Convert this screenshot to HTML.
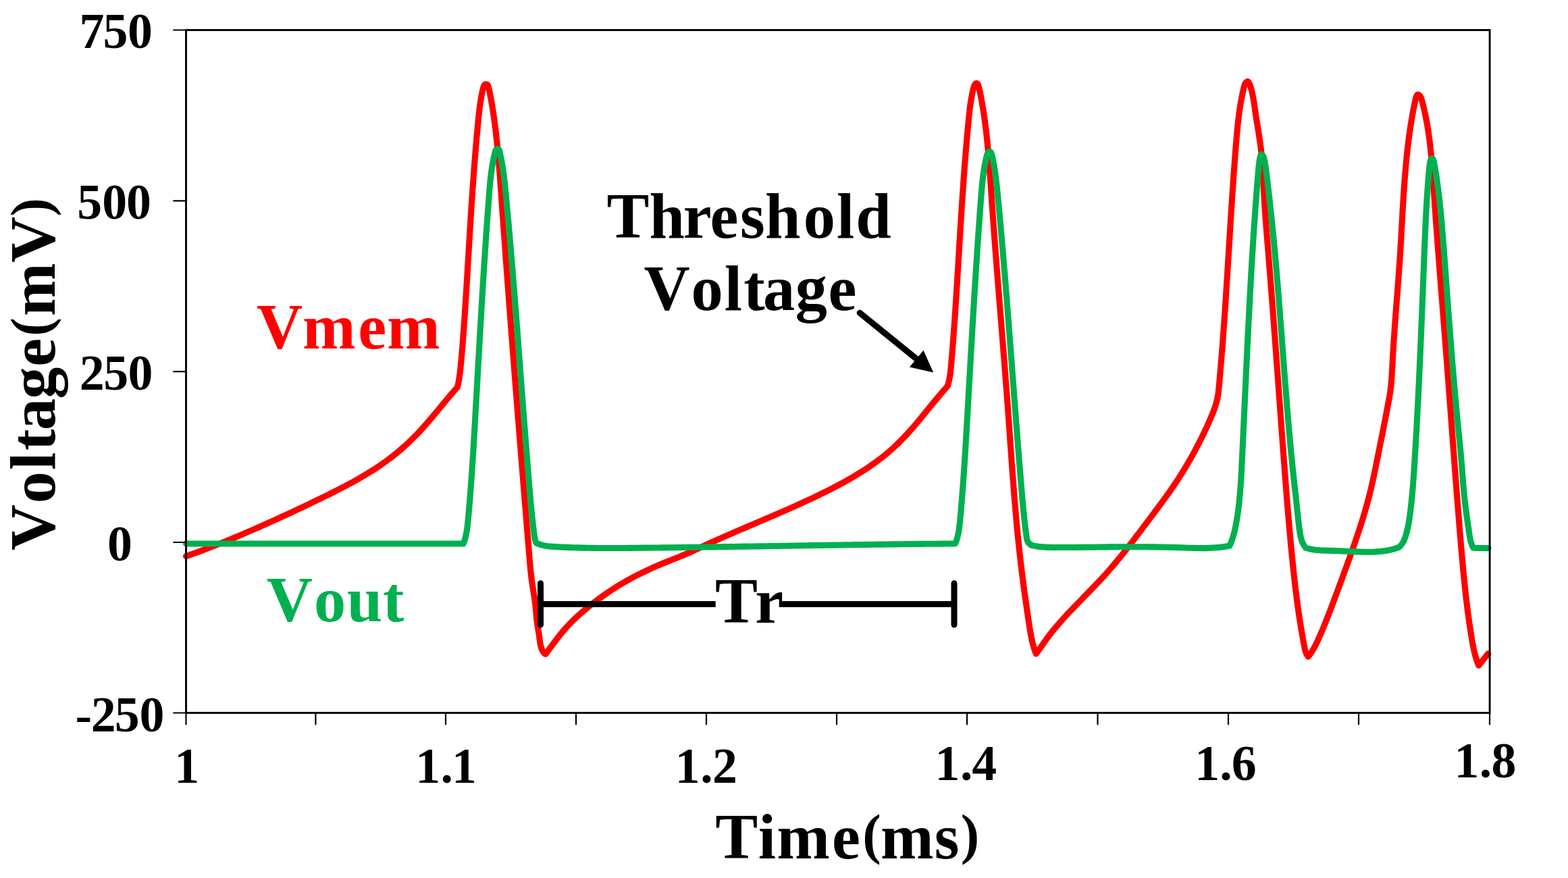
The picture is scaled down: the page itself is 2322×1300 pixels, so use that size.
<!DOCTYPE html>
<html lang="en"><head><meta charset="utf-8"><title>Vmem / Vout spike waveform</title>
<style>html,body{margin:0;padding:0;background:#fff}svg{display:block}text{font-family:"Liberation Serif",serif;font-weight:bold;white-space:pre}</style>
</head><body>
<svg xmlns="http://www.w3.org/2000/svg" width="2322" height="1300" viewBox="0 0 2322 1300">
<rect width="2322" height="1300" fill="#fff"/>
<g fill="none" stroke-width="9.1" stroke-linecap="round" stroke-linejoin="round">
<path stroke="#f00" d="M275.500 823.600C278.656 822.505 281.808 821.396 284.954 820.271C288.100 819.146 291.240 818.007 294.376 816.853C297.512 815.700 300.642 814.533 303.767 813.352C306.893 812.171 310.013 810.978 313.129 809.772C316.245 808.566 319.355 807.347 322.462 806.117C325.568 804.887 328.670 803.645 331.767 802.393C334.864 801.141 337.957 799.877 341.046 798.604C344.135 797.331 347.220 796.047 350.300 794.755C353.381 793.462 356.458 792.160 359.531 790.850C362.604 789.539 365.674 788.220 368.740 786.894C371.807 785.567 374.869 784.233 377.929 782.891C380.989 781.550 384.046 780.201 387.100 778.846C390.154 777.491 393.205 776.130 396.253 774.764C399.302 773.397 402.348 772.025 405.392 770.647C408.435 769.269 411.476 767.885 414.515 766.496C417.553 765.106 420.589 763.711 423.622 762.310C426.655 760.910 429.686 759.503 432.714 758.091C435.741 756.680 438.767 755.262 441.789 753.839C444.812 752.416 447.832 750.987 450.849 749.552C453.867 748.118 456.882 746.678 459.894 745.232C462.906 743.787 465.915 742.336 468.922 740.879C471.928 739.422 474.932 737.960 477.933 736.492C480.935 735.024 483.933 733.551 486.927 732.068C489.921 730.586 492.911 729.094 495.894 727.590C498.878 726.087 501.855 724.570 504.824 723.038C507.793 721.506 510.753 719.958 513.704 718.392C516.655 716.825 519.596 715.239 522.524 713.631C525.453 712.023 528.369 710.392 531.271 708.737C534.173 707.081 537.060 705.400 539.931 703.691C542.801 701.981 545.655 700.243 548.489 698.475C551.323 696.706 554.138 694.906 556.931 693.072C559.724 691.239 562.495 689.372 565.241 687.469C567.987 685.565 570.707 683.626 573.400 681.648C576.092 679.670 578.757 677.653 581.389 675.596C584.022 673.539 586.622 671.441 589.190 669.304C591.758 667.167 594.294 664.991 596.797 662.778C599.301 660.566 601.772 658.316 604.210 656.033C606.648 653.749 609.054 651.430 611.428 649.079C613.802 646.728 616.143 644.344 618.452 641.930C620.761 639.515 623.038 637.069 625.284 634.596C627.530 632.123 629.746 629.622 631.939 627.102C634.132 624.582 636.303 622.042 638.458 619.489C640.613 616.936 642.753 614.370 644.884 611.797C647.016 609.224 649.139 606.645 651.262 604.065C653.385 601.486 655.508 598.906 657.637 596.331C659.767 593.757 661.904 591.189 664.055 588.633C666.207 586.077 668.373 583.533 670.561 581.009C672.750 578.484 674.962 575.980 677.200 573.500C678.065 570.290 678.796 567.043 679.406 563.775C680.015 560.506 680.512 557.217 680.937 553.919C681.362 550.622 681.716 547.315 682.039 544.006C682.363 540.697 682.662 537.385 682.960 534.073C683.257 530.762 683.548 527.449 683.832 524.137C684.116 520.824 684.394 517.510 684.665 514.197C684.937 510.883 685.202 507.568 685.463 504.253C685.723 500.939 685.977 497.623 686.227 494.308C686.476 490.992 686.721 487.676 686.961 484.360C687.201 481.043 687.436 477.727 687.668 474.410C687.899 471.093 688.126 467.776 688.350 464.458C688.574 461.141 688.794 457.823 689.012 454.505C689.229 451.187 689.443 447.869 689.655 444.551C689.866 441.233 690.076 437.914 690.283 434.596C690.490 431.277 690.695 427.959 690.898 424.640C691.102 421.321 691.304 418.002 691.504 414.683C691.705 411.364 691.905 408.045 692.104 404.726C692.303 401.407 692.502 398.088 692.701 394.769C692.899 391.450 693.097 388.131 693.296 384.812C693.494 381.493 693.693 378.174 693.892 374.855C694.090 371.536 694.290 368.217 694.490 364.898C694.689 361.579 694.890 358.260 695.092 354.941C695.293 351.622 695.495 348.303 695.699 344.984C695.903 341.666 696.107 338.347 696.314 335.028C696.520 331.710 696.728 328.391 696.937 325.073C697.147 321.755 697.358 318.436 697.571 315.118C697.785 311.800 698.000 308.482 698.218 305.164C698.435 301.846 698.655 298.529 698.878 295.211C699.101 291.893 699.326 288.576 699.554 285.259C699.782 281.942 700.013 278.625 700.247 275.308C700.481 271.991 700.718 268.675 700.959 265.358C701.199 262.042 701.443 258.726 701.691 255.410C701.939 252.095 702.191 248.779 702.446 245.464C702.701 242.149 702.961 238.834 703.225 235.519C703.488 232.205 703.756 228.891 704.029 225.577C704.301 222.263 704.579 218.950 704.860 215.637C705.142 212.324 705.429 209.011 705.721 205.699C706.013 202.387 706.310 199.075 706.612 195.764C706.914 192.453 707.222 189.142 707.535 185.832C707.849 182.521 708.167 179.212 708.493 175.903C708.819 172.594 709.156 169.286 709.522 165.981C709.888 162.676 710.284 159.375 710.730 156.080C711.175 152.784 711.669 149.496 712.230 146.219C712.791 142.941 713.420 139.675 714.134 136.428C714.848 133.180 715.383 129.844 716.776 126.825C718.169 123.806 721.713 124.183 722.818 127.319C723.923 130.455 724.619 133.718 725.262 136.980C725.905 140.243 726.519 143.511 727.109 146.783C727.700 150.055 728.266 153.331 728.809 156.612C729.352 159.892 729.872 163.176 730.370 166.464C730.869 169.751 731.346 173.042 731.804 176.335C732.262 179.628 732.700 182.924 733.120 186.223C733.541 189.521 733.943 192.822 734.329 196.124C734.716 199.427 735.086 202.731 735.441 206.037C735.797 209.343 736.138 212.650 736.466 215.959C736.795 219.268 737.110 222.578 737.415 225.889C737.720 229.200 738.013 232.512 738.298 235.825C738.582 239.138 738.857 242.451 739.125 245.765C739.393 249.080 739.653 252.394 739.907 255.710C740.161 259.025 740.410 262.341 740.654 265.657C740.898 268.973 741.138 272.289 741.376 275.605C741.614 278.922 741.849 282.239 742.084 285.555C742.319 288.872 742.553 292.189 742.788 295.505C743.022 298.822 743.258 302.139 743.494 305.455C743.730 308.772 743.967 312.089 744.204 315.405C744.441 318.722 744.679 322.038 744.917 325.355C745.156 328.671 745.394 331.987 745.634 335.304C745.873 338.620 746.113 341.936 746.354 345.253C746.594 348.569 746.835 351.885 747.077 355.201C747.319 358.518 747.561 361.834 747.803 365.150C748.046 368.466 748.289 371.782 748.533 375.098C748.777 378.414 749.021 381.730 749.266 385.046C749.510 388.362 749.756 391.678 750.001 394.994C750.247 398.310 750.493 401.626 750.740 404.942C750.987 408.258 751.234 411.573 751.482 414.889C751.729 418.205 751.978 421.521 752.226 424.836C752.475 428.152 752.724 431.468 752.974 434.783C753.223 438.099 753.473 441.414 753.724 444.730C753.974 448.046 754.225 451.361 754.477 454.676C754.728 457.992 754.980 461.307 755.233 464.623C755.485 467.938 755.738 471.254 755.991 474.569C756.244 477.884 756.498 481.200 756.752 484.515C757.006 487.830 757.260 491.145 757.515 494.461C757.770 497.776 758.025 501.091 758.281 504.406C758.537 507.721 758.793 511.036 759.049 514.352C759.306 517.667 759.563 520.982 759.820 524.297C760.077 527.612 760.335 530.927 760.593 534.242C760.851 537.557 761.110 540.872 761.368 544.187C761.627 547.501 761.886 550.816 762.146 554.131C762.406 557.446 762.665 560.761 762.926 564.076C763.186 567.390 763.447 570.705 763.708 574.020C763.969 577.335 764.230 580.649 764.491 583.964C764.753 587.279 765.015 590.593 765.277 593.908C765.540 597.223 765.802 600.537 766.065 603.852C766.328 607.166 766.592 610.481 766.855 613.796C767.119 617.110 767.383 620.425 767.647 623.739C767.911 627.054 768.176 630.368 768.440 633.682C768.705 636.997 768.970 640.311 769.236 643.626C769.501 646.940 769.767 650.254 770.033 653.569C770.298 656.883 770.565 660.197 770.831 663.512C771.098 666.826 771.364 670.140 771.631 673.455C771.898 676.769 772.166 680.083 772.433 683.397C772.701 686.712 772.968 690.026 773.236 693.340C773.504 696.654 773.773 699.968 774.041 703.282C774.310 706.597 774.578 709.911 774.847 713.225C775.116 716.539 775.385 719.853 775.655 723.167C775.924 726.481 776.193 729.795 776.463 733.109C776.733 736.423 777.003 739.737 777.273 743.051C777.543 746.365 777.814 749.679 778.084 752.993C778.355 756.307 778.626 759.621 778.897 762.935C779.168 766.249 779.439 769.563 779.710 772.877C779.981 776.191 780.253 779.505 780.524 782.819C780.796 786.132 781.068 789.446 781.340 792.760C781.612 796.074 781.884 799.388 782.156 802.702C782.428 806.016 782.701 809.329 782.973 812.643C783.246 815.957 783.518 819.271 783.791 822.585C784.064 825.898 784.338 829.212 784.624 832.525C784.911 835.837 785.210 839.149 785.534 842.458C785.858 845.767 786.207 849.074 786.593 852.377C786.979 855.679 787.403 858.977 787.871 862.269C788.340 865.561 788.848 868.847 789.364 872.132C789.881 875.416 790.405 878.700 790.908 881.986C791.411 885.273 791.892 888.563 792.319 891.861C792.747 895.158 793.119 898.463 793.414 901.775C793.710 905.087 793.947 908.403 794.231 911.716C794.516 915.029 794.862 918.337 795.323 921.630C795.784 924.923 796.332 928.203 796.880 931.482C797.429 934.762 797.978 938.041 798.444 941.334C798.909 944.626 799.255 947.935 799.765 951.221C800.276 954.506 800.963 957.777 802.091 960.905C803.219 964.032 804.792 967.527 808.000 968.400C809.975 965.728 811.941 963.048 813.910 960.371C815.879 957.695 817.852 955.021 819.843 952.360C821.834 949.700 823.843 947.053 825.884 944.430C827.926 941.808 829.999 939.211 832.118 936.651C834.236 934.091 836.400 931.568 838.622 929.097C840.844 926.626 843.127 924.210 845.461 921.844C847.794 919.478 850.179 917.163 852.604 914.892C855.030 912.620 857.496 910.392 859.993 908.200C862.491 906.008 865.019 903.851 867.573 901.724C870.126 899.598 872.706 897.503 875.312 895.441C877.917 893.378 880.548 891.348 883.204 889.350C885.859 887.352 888.539 885.386 891.242 883.454C893.946 881.522 896.673 879.622 899.422 877.756C902.172 875.890 904.944 874.057 907.738 872.259C910.532 870.460 913.349 868.695 916.186 866.965C919.023 865.235 921.881 863.540 924.760 861.879C927.638 860.218 930.536 858.592 933.453 857.000C936.369 855.407 939.304 853.848 942.256 852.322C945.208 850.796 948.177 849.303 951.162 847.842C954.146 846.380 957.146 844.951 960.160 843.552C963.174 842.153 966.203 840.784 969.244 839.446C972.286 838.107 975.340 836.798 978.406 835.517C981.473 834.236 984.552 832.986 987.637 831.752C990.723 830.518 993.815 829.300 996.905 828.077C999.994 826.855 1003.083 825.628 1006.162 824.378C1009.241 823.127 1012.309 821.852 1015.362 820.539C1018.414 819.226 1021.453 817.880 1024.482 816.514C1027.512 815.148 1030.532 813.762 1033.548 812.368C1036.565 810.974 1039.578 809.571 1042.592 808.173C1045.607 806.775 1048.624 805.382 1051.647 804.002C1054.669 802.621 1057.697 801.251 1060.729 799.891C1063.760 798.530 1066.796 797.178 1069.835 795.834C1072.874 794.490 1075.917 793.154 1078.962 791.824C1082.007 790.494 1085.056 789.171 1088.106 787.852C1091.156 786.533 1094.208 785.220 1097.262 783.910C1100.316 782.599 1103.371 781.293 1106.428 779.988C1109.484 778.683 1112.541 777.381 1115.598 776.079C1118.656 774.777 1121.714 773.476 1124.771 772.174C1127.828 770.872 1130.885 769.569 1133.941 768.264C1136.997 766.959 1140.053 765.652 1143.106 764.341C1146.160 763.030 1149.212 761.716 1152.262 760.396C1155.312 759.077 1158.359 757.752 1161.404 756.421C1164.449 755.090 1167.491 753.753 1170.530 752.408C1173.568 751.063 1176.603 749.709 1179.634 748.347C1182.665 746.985 1185.692 745.613 1188.714 744.231C1191.736 742.849 1194.753 741.456 1197.765 740.052C1200.776 738.647 1203.782 737.230 1206.782 735.800C1209.782 734.371 1212.775 732.927 1215.761 731.470C1218.748 730.012 1221.727 728.540 1224.698 727.051C1227.669 725.563 1230.632 724.058 1233.585 722.534C1236.537 721.009 1239.480 719.466 1242.411 717.900C1245.342 716.334 1248.262 714.746 1251.167 713.134C1254.073 711.521 1256.964 709.884 1259.840 708.219C1262.716 706.554 1265.576 704.862 1268.418 703.139C1271.260 701.417 1274.084 699.664 1276.887 697.879C1279.689 696.094 1282.472 694.276 1285.230 692.424C1287.989 690.571 1290.724 688.683 1293.432 686.758C1296.141 684.833 1298.823 682.870 1301.475 680.868C1304.128 678.866 1306.750 676.825 1309.340 674.742C1311.929 672.660 1314.486 670.536 1317.005 668.370C1319.525 666.203 1322.008 663.994 1324.451 661.741C1326.894 659.488 1329.295 657.190 1331.655 654.851C1334.016 652.512 1336.337 650.133 1338.624 647.722C1340.910 645.311 1343.163 642.868 1345.387 640.399C1347.612 637.930 1349.808 635.436 1351.982 632.923C1354.156 630.410 1356.308 627.877 1358.444 625.332C1360.580 622.786 1362.700 620.227 1364.811 617.661C1366.921 615.094 1369.023 612.520 1371.121 609.943C1373.219 607.366 1375.315 604.787 1377.413 602.210C1379.512 599.634 1381.615 597.061 1383.728 594.496C1385.840 591.931 1387.963 589.374 1390.103 586.832C1392.243 584.290 1394.400 581.761 1396.580 579.254C1398.761 576.746 1400.967 574.261 1403.200 571.800C1404.216 568.617 1405.048 565.376 1405.715 562.101C1406.383 558.827 1406.897 555.523 1407.320 552.209C1407.742 548.894 1408.073 545.568 1408.377 542.240C1408.681 538.913 1408.966 535.583 1409.250 532.254C1409.535 528.925 1409.813 525.595 1410.087 522.265C1410.361 518.934 1410.629 515.604 1410.893 512.272C1411.156 508.941 1411.415 505.610 1411.669 502.278C1411.923 498.946 1412.173 495.614 1412.419 492.282C1412.665 488.949 1412.906 485.616 1413.144 482.283C1413.382 478.950 1413.616 475.617 1413.847 472.284C1414.078 468.950 1414.306 465.616 1414.530 462.282C1414.755 458.948 1414.976 455.614 1415.195 452.280C1415.415 448.946 1415.631 445.611 1415.845 442.276C1416.060 438.942 1416.272 435.607 1416.482 432.272C1416.692 428.937 1416.901 425.602 1417.108 422.267C1417.315 418.932 1417.521 415.597 1417.725 412.262C1417.930 408.926 1418.133 405.591 1418.336 402.256C1418.539 398.920 1418.741 395.585 1418.943 392.250C1419.145 388.914 1419.346 385.579 1419.548 382.243C1419.749 378.908 1419.951 375.573 1420.152 372.237C1420.354 368.902 1420.556 365.566 1420.758 362.231C1420.961 358.896 1421.164 355.560 1421.368 352.225C1421.571 348.890 1421.776 345.554 1421.982 342.219C1422.188 338.884 1422.395 335.549 1422.603 332.214C1422.811 328.879 1423.021 325.544 1423.233 322.209C1423.444 318.874 1423.658 315.540 1423.873 312.205C1424.088 308.871 1424.306 305.536 1424.526 302.202C1424.745 298.868 1424.967 295.534 1425.192 292.200C1425.417 288.866 1425.644 285.532 1425.874 282.198C1426.105 278.865 1426.338 275.531 1426.574 272.198C1426.811 268.865 1427.051 265.532 1427.294 262.200C1427.537 258.867 1427.784 255.535 1428.034 252.202C1428.285 248.870 1428.539 245.539 1428.798 242.207C1429.056 238.876 1429.319 235.544 1429.586 232.214C1429.853 228.883 1430.125 225.552 1430.401 222.222C1430.678 218.892 1430.959 215.563 1431.245 212.233C1431.531 208.904 1431.822 205.575 1432.118 202.247C1432.415 198.919 1432.716 195.591 1433.024 192.263C1433.331 188.936 1433.644 185.609 1433.963 182.283C1434.282 178.957 1434.604 175.631 1434.942 172.306C1435.280 168.982 1435.636 165.659 1436.029 162.341C1436.422 159.023 1436.853 155.709 1437.340 152.403C1437.827 149.097 1438.371 145.800 1438.991 142.516C1439.610 139.232 1440.305 135.963 1441.092 132.715C1441.878 129.468 1442.416 125.706 1445.076 123.684C1447.736 121.662 1449.181 127.816 1450.032 131.048C1450.884 134.279 1451.505 137.566 1452.147 140.845C1452.789 144.124 1453.402 147.409 1453.988 150.699C1454.574 153.988 1455.132 157.283 1455.666 160.582C1456.200 163.880 1456.708 167.183 1457.193 170.489C1457.679 173.795 1458.141 177.105 1458.582 180.417C1459.023 183.729 1459.443 187.044 1459.843 190.362C1460.244 193.679 1460.626 196.999 1460.991 200.320C1461.356 203.642 1461.704 206.965 1462.037 210.290C1462.370 213.615 1462.688 216.941 1462.993 220.269C1463.298 223.596 1463.591 226.925 1463.873 230.255C1464.154 233.584 1464.425 236.915 1464.688 240.246C1464.950 243.577 1465.204 246.909 1465.451 250.241C1465.698 253.574 1465.938 256.907 1466.174 260.240C1466.410 263.573 1466.642 266.906 1466.871 270.240C1467.100 273.574 1467.326 276.908 1467.552 280.241C1467.778 283.575 1468.004 286.909 1468.231 290.243C1468.459 293.577 1468.688 296.910 1468.920 300.244C1469.152 303.577 1469.385 306.911 1469.621 310.244C1469.857 313.577 1470.095 316.910 1470.335 320.243C1470.574 323.576 1470.816 326.908 1471.059 330.241C1471.303 333.574 1471.548 336.906 1471.795 340.239C1472.042 343.571 1472.290 346.903 1472.540 350.235C1472.790 353.568 1473.042 356.900 1473.295 360.231C1473.548 363.563 1473.802 366.895 1474.058 370.227C1474.313 373.559 1474.570 376.890 1474.828 380.222C1475.086 383.553 1475.346 386.885 1475.606 390.216C1475.866 393.547 1476.127 396.879 1476.389 400.210C1476.652 403.541 1476.915 406.872 1477.178 410.203C1477.442 413.534 1477.707 416.865 1477.972 420.196C1478.237 423.527 1478.503 426.858 1478.769 430.189C1479.036 433.520 1479.303 436.851 1479.570 440.182C1479.837 443.512 1480.105 446.843 1480.373 450.174C1480.641 453.505 1480.909 456.835 1481.177 460.166C1481.446 463.497 1481.714 466.828 1481.983 470.158C1482.251 473.489 1482.520 476.820 1482.788 480.150C1483.056 483.481 1483.325 486.812 1483.593 490.143C1483.861 493.473 1484.129 496.804 1484.396 500.135C1484.663 503.466 1484.930 506.797 1485.197 510.127C1485.464 513.458 1485.730 516.789 1485.995 520.120C1486.260 523.451 1486.525 526.782 1486.789 530.113C1487.053 533.444 1487.317 536.775 1487.579 540.106C1487.842 543.438 1488.103 546.769 1488.364 550.100C1488.624 553.432 1488.884 556.763 1489.142 560.094C1489.401 563.426 1489.658 566.758 1489.914 570.089C1490.170 573.421 1490.425 576.753 1490.678 580.085C1490.932 583.416 1491.184 586.748 1491.434 590.081C1491.685 593.413 1491.934 596.745 1492.181 600.077C1492.429 603.410 1492.675 606.742 1492.919 610.075C1493.163 613.407 1493.405 616.740 1493.646 620.073C1493.886 623.406 1494.126 626.738 1494.364 630.071C1494.602 633.404 1494.840 636.738 1495.076 640.071C1495.313 643.404 1495.550 646.737 1495.786 650.070C1496.022 653.403 1496.258 656.736 1496.495 660.069C1496.732 663.403 1496.969 666.736 1497.207 670.069C1497.445 673.402 1497.684 676.735 1497.924 680.068C1498.164 683.400 1498.405 686.733 1498.649 690.066C1498.892 693.398 1499.137 696.731 1499.385 700.063C1499.632 703.396 1499.882 706.728 1500.134 710.060C1500.386 713.392 1500.642 716.723 1500.900 720.055C1501.158 723.386 1501.420 726.718 1501.685 730.049C1501.950 733.380 1502.219 736.710 1502.492 740.041C1502.764 743.371 1503.041 746.701 1503.323 750.031C1503.605 753.360 1503.891 756.690 1504.182 760.018C1504.473 763.347 1504.770 766.675 1505.071 770.003C1505.373 773.331 1505.680 776.659 1505.994 779.985C1506.307 783.312 1506.626 786.638 1506.952 789.964C1507.278 793.290 1507.610 796.615 1507.949 799.939C1508.288 803.263 1508.634 806.587 1508.987 809.909C1509.340 813.232 1509.701 816.554 1510.069 819.875C1510.438 823.196 1510.814 826.517 1511.198 829.836C1511.582 833.155 1511.974 836.474 1512.373 839.791C1512.773 843.109 1513.179 846.426 1513.593 849.741C1514.007 853.057 1514.428 856.372 1514.856 859.686C1515.284 863.000 1515.719 866.313 1516.161 869.625C1516.603 872.938 1517.051 876.249 1517.505 879.559C1517.960 882.870 1518.421 886.179 1518.888 889.488C1519.355 892.797 1519.828 896.105 1520.307 899.412C1520.786 902.719 1521.271 906.025 1521.762 909.330C1522.252 912.635 1522.748 915.940 1523.249 919.244C1523.751 922.547 1524.255 925.851 1524.770 929.152C1525.285 932.454 1525.817 935.753 1526.406 939.042C1526.995 942.331 1527.641 945.611 1528.383 948.869C1529.126 952.126 1529.966 955.363 1530.940 958.559C1531.915 961.755 1533.033 964.908 1534.300 968.000C1536.276 965.321 1538.214 962.615 1540.135 959.896C1542.056 957.178 1543.963 954.449 1545.882 951.730C1547.802 949.011 1549.736 946.301 1551.710 943.621C1553.685 940.942 1555.706 938.296 1557.774 935.688C1559.842 933.079 1561.954 930.506 1564.102 927.963C1566.250 925.420 1568.434 922.908 1570.645 920.419C1572.856 917.931 1575.095 915.467 1577.353 913.022C1579.611 910.577 1581.890 908.150 1584.180 905.734C1586.471 903.319 1588.773 900.915 1591.083 898.518C1593.392 896.121 1595.709 893.731 1598.029 891.344C1600.349 888.957 1602.673 886.574 1604.996 884.189C1607.319 881.805 1609.641 879.420 1611.959 877.031C1614.276 874.642 1616.589 872.248 1618.894 869.846C1621.198 867.444 1623.494 865.034 1625.777 862.611C1628.060 860.189 1630.330 857.755 1632.584 855.305C1634.837 852.855 1637.073 850.389 1639.288 847.904C1641.503 845.420 1643.696 842.915 1645.869 840.393C1648.041 837.871 1650.194 835.332 1652.328 832.777C1654.462 830.223 1656.578 827.654 1658.679 825.071C1660.779 822.489 1662.864 819.894 1664.936 817.289C1667.007 814.683 1669.066 812.067 1671.113 809.442C1673.160 806.818 1675.197 804.185 1677.225 801.545C1679.253 798.906 1681.273 796.260 1683.287 793.610C1685.302 790.960 1687.310 788.305 1689.315 785.648C1691.320 782.991 1693.322 780.332 1695.323 777.672C1697.324 775.012 1699.325 772.351 1701.327 769.692C1703.328 767.032 1705.331 764.373 1707.330 761.712C1709.329 759.050 1711.325 756.387 1713.315 753.718C1715.305 751.050 1717.289 748.377 1719.263 745.697C1721.237 743.017 1723.201 740.329 1725.153 737.633C1727.104 734.936 1729.042 732.229 1730.964 729.511C1732.885 726.793 1734.790 724.064 1736.675 721.320C1738.560 718.576 1740.424 715.819 1742.265 713.045C1744.106 710.272 1745.922 707.482 1747.712 704.676C1749.503 701.870 1751.267 699.047 1753.006 696.209C1754.745 693.370 1756.458 690.516 1758.147 687.648C1759.836 684.779 1761.499 681.896 1763.138 678.999C1764.777 676.102 1766.392 673.191 1767.982 670.266C1769.572 667.342 1771.138 664.405 1772.681 661.455C1774.223 658.505 1775.741 655.543 1777.236 652.569C1778.732 649.595 1780.203 646.609 1781.652 643.612C1783.100 640.615 1784.526 637.607 1785.928 634.588C1787.331 631.569 1788.711 628.540 1790.069 625.501C1791.426 622.462 1792.767 619.414 1794.057 616.346C1795.348 613.278 1796.588 610.188 1797.738 607.064C1798.888 603.941 1799.949 600.783 1800.879 597.587C1801.809 594.391 1802.609 591.156 1803.240 587.888C1803.871 584.620 1804.324 581.317 1804.600 578.000C1804.916 574.683 1805.227 571.365 1805.532 568.047C1805.838 564.729 1806.138 561.411 1806.434 558.092C1806.729 554.773 1807.020 551.453 1807.306 548.133C1807.593 544.814 1807.874 541.493 1808.151 538.173C1808.429 534.852 1808.702 531.531 1808.971 528.210C1809.240 524.889 1809.505 521.567 1809.766 518.245C1810.027 514.923 1810.284 511.601 1810.538 508.279C1810.792 504.956 1811.042 501.634 1811.289 498.311C1811.536 494.988 1811.779 491.665 1812.020 488.341C1812.260 485.018 1812.498 481.694 1812.733 478.370C1812.967 475.046 1813.199 471.722 1813.429 468.398C1813.658 465.074 1813.885 461.749 1814.110 458.425C1814.335 455.100 1814.557 451.776 1814.778 448.451C1814.998 445.126 1815.217 441.801 1815.433 438.476C1815.650 435.151 1815.865 431.826 1816.078 428.501C1816.292 425.175 1816.504 421.850 1816.715 418.524C1816.925 415.199 1817.135 411.873 1817.343 408.548C1817.552 405.222 1817.760 401.897 1817.966 398.571C1818.173 395.245 1818.379 391.919 1818.585 388.594C1818.791 385.268 1818.996 381.942 1819.201 378.616C1819.406 375.290 1819.611 371.965 1819.816 368.639C1820.021 365.313 1820.226 361.987 1820.431 358.661C1820.636 355.336 1820.842 352.010 1821.048 348.684C1821.254 345.358 1821.461 342.033 1821.668 338.707C1821.876 335.381 1822.084 332.056 1822.294 328.730C1822.503 325.405 1822.714 322.079 1822.926 318.754C1823.138 315.428 1823.351 312.103 1823.566 308.778C1823.781 305.453 1823.997 302.128 1824.215 298.803C1824.434 295.478 1824.654 292.153 1824.876 288.828C1825.098 285.504 1825.323 282.179 1825.549 278.855C1825.776 275.530 1826.005 272.206 1826.237 268.882C1826.469 265.558 1826.703 262.234 1826.941 258.910C1827.178 255.587 1827.418 252.263 1827.661 248.940C1827.905 245.617 1828.151 242.294 1828.401 238.971C1828.651 235.648 1828.904 232.326 1829.161 229.004C1829.418 225.681 1829.679 222.359 1829.943 219.038C1830.208 215.716 1830.475 212.395 1830.751 209.074C1831.027 205.753 1831.312 202.433 1831.610 199.115C1831.909 195.796 1832.222 192.479 1832.554 189.163C1832.887 185.848 1833.239 182.534 1833.617 179.223C1833.995 175.913 1834.398 172.605 1834.832 169.301C1835.267 165.998 1835.732 162.698 1836.234 159.404C1836.736 156.110 1837.274 152.821 1837.855 149.540C1838.435 146.259 1839.058 142.985 1839.727 139.721C1840.397 136.457 1841.101 133.199 1841.883 129.960C1842.664 126.721 1843.348 122.834 1846.223 121.150C1849.099 119.467 1850.775 125.109 1851.835 128.268C1852.894 131.427 1853.721 134.660 1854.443 137.913C1855.165 141.166 1855.789 144.440 1856.352 147.724C1856.915 151.009 1857.417 154.303 1857.895 157.601C1858.374 160.898 1858.828 164.199 1859.297 167.498C1859.765 170.797 1860.255 174.093 1860.769 177.386C1861.284 180.678 1861.817 183.967 1862.353 187.256C1862.890 190.544 1863.429 193.832 1863.957 197.123C1864.484 200.413 1864.999 203.705 1865.485 207.001C1865.972 210.298 1866.430 213.598 1866.844 216.905C1867.258 220.211 1867.627 223.523 1867.959 226.838C1868.292 230.154 1868.588 233.473 1868.855 236.794C1869.123 240.116 1869.362 243.439 1869.580 246.764C1869.798 250.089 1869.996 253.416 1870.182 256.743C1870.368 260.069 1870.541 263.397 1870.710 266.725C1870.879 270.053 1871.043 273.381 1871.212 276.709C1871.380 280.037 1871.552 283.364 1871.736 286.691C1871.920 290.018 1872.114 293.345 1872.318 296.671C1872.522 299.997 1872.735 303.322 1872.957 306.647C1873.178 309.971 1873.408 313.296 1873.644 316.619C1873.880 319.943 1874.124 323.266 1874.372 326.589C1874.621 329.912 1874.875 333.234 1875.133 336.557C1875.391 339.879 1875.654 343.200 1875.919 346.522C1876.184 349.844 1876.452 353.165 1876.722 356.486C1876.991 359.807 1877.262 363.128 1877.533 366.449C1877.804 369.770 1878.076 373.092 1878.346 376.413C1878.616 379.734 1878.885 383.055 1879.153 386.376C1879.420 389.698 1879.687 393.019 1879.952 396.341C1880.218 399.662 1880.482 402.984 1880.745 406.306C1881.008 409.627 1881.271 412.949 1881.532 416.271C1881.793 419.593 1882.053 422.915 1882.312 426.237C1882.571 429.559 1882.829 432.881 1883.087 436.203C1883.344 439.525 1883.600 442.848 1883.856 446.170C1884.112 449.492 1884.366 452.815 1884.620 456.137C1884.874 459.460 1885.127 462.782 1885.380 466.105C1885.632 469.427 1885.884 472.750 1886.135 476.072C1886.386 479.395 1886.636 482.718 1886.886 486.040C1887.136 489.363 1887.385 492.686 1887.634 496.009C1887.882 499.332 1888.130 502.655 1888.378 505.978C1888.625 509.300 1888.872 512.623 1889.119 515.946C1889.366 519.269 1889.612 522.592 1889.858 525.915C1890.103 529.238 1890.349 532.562 1890.594 535.885C1890.839 539.208 1891.084 542.531 1891.328 545.854C1891.573 549.177 1891.817 552.500 1892.061 555.823C1892.305 559.147 1892.549 562.470 1892.793 565.793C1893.036 569.116 1893.280 572.439 1893.523 575.763C1893.767 579.086 1894.010 582.409 1894.253 585.732C1894.497 589.056 1894.740 592.379 1894.983 595.702C1895.226 599.025 1895.470 602.348 1895.713 605.672C1895.957 608.995 1896.200 612.318 1896.444 615.641C1896.687 618.965 1896.931 622.288 1897.175 625.611C1897.419 628.934 1897.663 632.257 1897.908 635.580C1898.152 638.904 1898.397 642.227 1898.642 645.550C1898.886 648.873 1899.132 652.196 1899.377 655.519C1899.623 658.842 1899.869 662.165 1900.116 665.488C1900.363 668.811 1900.611 672.134 1900.859 675.457C1901.107 678.780 1901.357 682.102 1901.607 685.425C1901.858 688.748 1902.109 692.070 1902.362 695.393C1902.615 698.715 1902.870 702.038 1903.126 705.360C1903.382 708.682 1903.639 712.005 1903.899 715.327C1904.158 718.649 1904.419 721.970 1904.683 725.292C1904.946 728.614 1905.211 731.935 1905.479 735.257C1905.746 738.578 1906.016 741.899 1906.289 745.220C1906.561 748.541 1906.836 751.862 1907.113 755.183C1907.391 758.503 1907.671 761.823 1907.955 765.144C1908.238 768.464 1908.524 771.783 1908.813 775.103C1909.103 778.422 1909.395 781.742 1909.691 785.061C1909.987 788.380 1910.287 791.698 1910.590 795.017C1910.893 798.335 1911.199 801.653 1911.510 804.971C1911.820 808.288 1912.134 811.605 1912.453 814.922C1912.771 818.239 1913.094 821.556 1913.421 824.872C1913.748 828.188 1914.080 831.503 1914.418 834.818C1914.757 838.133 1915.101 841.447 1915.452 844.761C1915.803 848.075 1916.161 851.387 1916.527 854.699C1916.893 858.011 1917.267 861.322 1917.650 864.632C1918.033 867.942 1918.425 871.251 1918.827 874.559C1919.229 877.867 1919.641 881.174 1920.064 884.479C1920.488 887.784 1920.922 891.088 1921.368 894.390C1921.814 897.692 1922.272 900.992 1922.743 904.291C1923.215 907.590 1923.699 910.886 1924.197 914.181C1924.696 917.476 1925.208 920.768 1925.735 924.058C1926.263 927.348 1926.805 930.636 1927.363 933.921C1927.921 937.206 1928.493 940.489 1929.080 943.769C1929.667 947.049 1930.269 950.326 1930.885 953.601C1931.500 956.876 1932.035 960.171 1932.867 963.398C1933.698 966.624 1935.042 969.761 1937.200 972.300C1939.309 969.770 1941.239 967.092 1942.996 964.306C1944.753 961.520 1946.349 958.634 1947.845 955.699C1949.341 952.764 1950.739 949.781 1952.111 946.786C1953.482 943.791 1954.821 940.781 1956.134 937.760C1957.447 934.739 1958.732 931.706 1959.995 928.664C1961.258 925.622 1962.498 922.570 1963.720 919.511C1964.942 916.452 1966.146 913.386 1967.337 910.315C1968.527 907.243 1969.703 904.166 1970.871 901.086C1972.038 898.006 1973.196 894.922 1974.350 891.837C1975.503 888.751 1976.652 885.664 1977.801 882.577C1978.949 879.490 1980.098 876.402 1981.244 873.314C1982.391 870.226 1983.536 867.138 1984.679 864.048C1985.822 860.959 1986.963 857.869 1988.100 854.777C1989.237 851.686 1990.370 848.593 1991.500 845.499C1992.629 842.404 1993.754 839.308 1994.874 836.210C1995.994 833.113 1997.108 830.013 1998.216 826.911C1999.324 823.809 2000.426 820.704 2001.520 817.598C2002.615 814.491 2003.702 811.381 2004.781 808.269C2005.860 805.157 2006.931 802.042 2007.992 798.923C2009.054 795.805 2010.106 792.684 2011.147 789.558C2012.188 786.433 2013.217 783.304 2014.232 780.170C2015.247 777.037 2016.247 773.898 2017.231 770.754C2018.214 767.611 2019.180 764.461 2020.127 761.306C2021.073 758.151 2022.000 754.990 2022.904 751.823C2023.808 748.655 2024.689 745.481 2025.544 742.300C2026.400 739.119 2027.230 735.931 2028.031 732.736C2028.833 729.541 2029.608 726.340 2030.361 723.133C2031.114 719.926 2031.844 716.714 2032.557 713.498C2033.270 710.282 2033.966 707.062 2034.649 703.840C2035.332 700.617 2036.002 697.392 2036.664 694.165C2037.326 690.939 2037.980 687.710 2038.632 684.481C2039.283 681.252 2039.931 678.023 2040.580 674.793C2041.229 671.564 2041.878 668.334 2042.526 665.105C2043.174 661.875 2043.820 658.645 2044.466 655.415C2045.111 652.185 2045.755 648.954 2046.396 645.723C2047.038 642.493 2047.678 639.261 2048.314 636.029C2048.951 632.798 2049.586 629.565 2050.217 626.332C2050.848 623.099 2051.476 619.866 2052.100 616.631C2052.724 613.397 2053.345 610.162 2053.961 606.926C2054.577 603.690 2055.188 600.453 2055.795 597.216C2056.402 593.978 2057.003 590.740 2057.600 587.500C2058.192 584.232 2058.700 580.949 2059.131 577.656C2059.561 574.363 2059.918 571.061 2060.222 567.754C2060.526 564.447 2060.777 561.135 2060.994 557.821C2061.212 554.507 2061.397 551.191 2061.569 547.875C2061.741 544.558 2061.900 541.241 2062.066 537.924C2062.233 534.607 2062.408 531.291 2062.592 527.975C2062.776 524.659 2062.968 521.344 2063.168 518.029C2063.368 514.714 2063.575 511.399 2063.789 508.085C2064.003 504.771 2064.224 501.457 2064.450 498.144C2064.676 494.831 2064.907 491.518 2065.143 488.205C2065.379 484.893 2065.620 481.580 2065.864 478.268C2066.108 474.956 2066.356 471.645 2066.606 468.333C2066.856 465.022 2067.109 461.710 2067.364 458.399C2067.618 455.088 2067.874 451.777 2068.131 448.466C2068.387 445.154 2068.644 441.843 2068.901 438.532C2069.158 435.221 2069.414 431.910 2069.669 428.599C2069.923 425.288 2070.177 421.976 2070.428 418.665C2070.679 415.353 2070.927 412.042 2071.173 408.730C2071.418 405.418 2071.659 402.106 2071.897 398.793C2072.134 395.481 2072.367 392.168 2072.594 388.855C2072.822 385.541 2073.044 382.228 2073.260 378.914C2073.476 375.600 2073.685 372.285 2073.888 368.971C2074.092 365.656 2074.290 362.341 2074.485 359.026C2074.680 355.710 2074.870 352.395 2075.059 349.079C2075.247 345.763 2075.433 342.448 2075.618 339.132C2075.803 335.816 2075.987 332.500 2076.172 329.184C2076.356 325.868 2076.542 322.553 2076.729 319.237C2076.916 315.921 2077.106 312.606 2077.299 309.290C2077.492 305.975 2077.688 302.660 2077.890 299.345C2078.091 296.030 2078.297 292.715 2078.510 289.401C2078.723 286.087 2078.943 282.773 2079.170 279.460C2079.397 276.147 2079.632 272.834 2079.877 269.522C2080.122 266.210 2080.376 262.899 2080.641 259.588C2080.906 256.278 2081.181 252.968 2081.470 249.660C2081.758 246.351 2082.059 243.044 2082.373 239.738C2082.688 236.432 2083.016 233.127 2083.360 229.824C2083.704 226.521 2084.063 223.219 2084.439 219.920C2084.815 216.620 2085.208 213.322 2085.619 210.027C2086.030 206.731 2086.460 203.438 2086.910 200.148C2087.359 196.857 2087.828 193.570 2088.319 190.285C2088.809 187.000 2089.321 183.719 2089.856 180.441C2090.391 177.164 2090.948 173.890 2091.529 170.620C2092.111 167.350 2092.717 164.085 2093.348 160.824C2093.979 157.564 2094.636 154.309 2095.319 151.059C2096.003 147.809 2096.500 144.461 2097.970 141.482C2099.439 138.504 2103.008 140.914 2104.124 144.042C2105.240 147.170 2106.098 150.383 2106.923 153.600C2107.747 156.817 2108.526 160.046 2109.261 163.284C2109.996 166.523 2110.689 169.771 2111.342 173.027C2111.994 176.284 2112.607 179.548 2113.184 182.818C2113.761 186.089 2114.301 189.366 2114.809 192.648C2115.317 195.930 2115.792 199.217 2116.239 202.508C2116.685 205.798 2117.102 209.093 2117.494 212.391C2117.886 215.689 2118.253 218.989 2118.598 222.292C2118.944 225.595 2119.268 228.901 2119.574 232.208C2119.880 235.514 2120.168 238.823 2120.443 242.133C2120.717 245.442 2120.977 248.753 2121.227 252.065C2121.477 255.376 2121.717 258.689 2121.950 262.001C2122.184 265.314 2122.410 268.627 2122.634 271.941C2122.858 275.254 2123.079 278.568 2123.300 281.882C2123.522 285.195 2123.745 288.509 2123.971 291.822C2124.197 295.135 2124.424 298.448 2124.654 301.761C2124.884 305.075 2125.116 308.387 2125.350 311.700C2125.583 315.013 2125.819 318.326 2126.056 321.638C2126.294 324.951 2126.533 328.263 2126.774 331.575C2127.014 334.888 2127.257 338.200 2127.501 341.512C2127.745 344.824 2127.990 348.136 2128.237 351.447C2128.484 354.759 2128.732 358.071 2128.982 361.383C2129.231 364.694 2129.482 368.006 2129.734 371.317C2129.986 374.629 2130.238 377.940 2130.492 381.251C2130.746 384.562 2131.001 387.874 2131.257 391.185C2131.513 394.496 2131.770 397.807 2132.027 401.118C2132.285 404.429 2132.543 407.740 2132.802 411.051C2133.060 414.362 2133.320 417.673 2133.580 420.983C2133.840 424.294 2134.100 427.605 2134.361 430.916C2134.621 434.227 2134.882 437.537 2135.144 440.848C2135.405 444.159 2135.666 447.469 2135.928 450.780C2136.190 454.091 2136.451 457.401 2136.713 460.712C2136.975 464.023 2137.236 467.333 2137.498 470.644C2137.759 473.955 2138.020 477.266 2138.281 480.576C2138.542 483.887 2138.803 487.198 2139.063 490.509C2139.324 493.819 2139.583 497.130 2139.843 500.441C2140.102 503.752 2140.361 507.063 2140.619 510.374C2140.877 513.685 2141.134 516.996 2141.391 520.307C2141.647 523.618 2141.903 526.929 2142.158 530.240C2142.413 533.551 2142.667 536.863 2142.920 540.174C2143.173 543.485 2143.426 546.797 2143.678 550.108C2143.930 553.420 2144.181 556.731 2144.432 560.043C2144.682 563.354 2144.932 566.666 2145.182 569.977C2145.432 573.289 2145.681 576.601 2145.930 579.912C2146.179 583.224 2146.427 586.536 2146.675 589.847C2146.923 593.159 2147.171 596.471 2147.419 599.783C2147.667 603.094 2147.914 606.406 2148.162 609.718C2148.409 613.030 2148.656 616.341 2148.904 619.653C2149.151 622.965 2149.399 626.277 2149.646 629.588C2149.893 632.900 2150.141 636.212 2150.389 639.524C2150.636 642.835 2150.884 646.147 2151.133 649.459C2151.381 652.771 2151.629 656.082 2151.878 659.394C2152.127 662.706 2152.376 666.017 2152.626 669.329C2152.876 672.640 2153.126 675.952 2153.377 679.264C2153.627 682.575 2153.879 685.887 2154.131 689.198C2154.382 692.509 2154.635 695.821 2154.888 699.132C2155.142 702.443 2155.396 705.755 2155.651 709.066C2155.906 712.377 2156.161 715.688 2156.418 718.999C2156.675 722.310 2156.932 725.621 2157.191 728.932C2157.450 732.243 2157.709 735.554 2157.970 738.865C2158.231 742.176 2158.493 745.486 2158.756 748.797C2159.019 752.107 2159.283 755.418 2159.549 758.728C2159.815 762.038 2160.082 765.349 2160.350 768.659C2160.618 771.969 2160.888 775.279 2161.159 778.589C2161.430 781.899 2161.703 785.209 2161.977 788.518C2162.252 791.828 2162.527 795.138 2162.805 798.447C2163.082 801.756 2163.362 805.066 2163.643 808.375C2163.925 811.684 2164.210 814.992 2164.498 818.301C2164.786 821.609 2165.077 824.918 2165.374 828.225C2165.670 831.533 2165.971 834.840 2166.277 838.147C2166.583 841.454 2166.895 844.760 2167.214 848.066C2167.533 851.372 2167.858 854.677 2168.190 857.981C2168.523 861.285 2168.863 864.589 2169.212 867.892C2169.561 871.194 2169.918 874.496 2170.285 877.797C2170.652 881.097 2171.028 884.397 2171.415 887.695C2171.802 890.994 2172.200 894.291 2172.609 897.587C2173.017 900.882 2173.438 904.177 2173.871 907.469C2174.303 910.762 2174.749 914.053 2175.207 917.342C2175.666 920.631 2176.138 923.919 2176.625 927.204C2177.111 930.489 2177.612 933.772 2178.128 937.053C2178.644 940.333 2179.176 943.612 2179.724 946.887C2180.271 950.163 2180.839 953.435 2181.467 956.696C2182.096 959.957 2182.786 963.207 2183.581 966.431C2184.375 969.656 2185.273 972.856 2186.315 976.009C2187.356 979.163 2188.550 982.266 2189.900 985.300L2203.600 967.800"/>
<path stroke="#00b050" d="M275.500 805.000L686.200 805.000C687.425 801.910 688.443 798.739 689.268 795.520C690.093 792.300 690.737 789.035 691.263 785.753C691.789 782.471 692.196 779.171 692.550 775.866C692.904 772.561 693.206 769.251 693.509 765.941C693.812 762.631 694.109 759.320 694.398 756.009C694.688 752.698 694.971 749.386 695.248 746.073C695.524 742.761 695.795 739.448 696.059 736.135C696.324 732.822 696.583 729.508 696.837 726.194C697.090 722.879 697.338 719.565 697.581 716.250C697.825 712.935 698.063 709.620 698.297 706.304C698.531 702.988 698.760 699.672 698.985 696.356C699.210 693.040 699.432 689.723 699.649 686.407C699.867 683.090 700.081 679.773 700.292 676.456C700.503 673.138 700.711 669.821 700.916 666.504C701.121 663.186 701.323 659.868 701.523 656.550C701.723 653.233 701.921 649.915 702.117 646.596C702.313 643.278 702.507 639.960 702.699 636.642C702.892 633.324 703.084 630.005 703.274 626.687C703.464 623.368 703.654 620.050 703.843 616.731C704.032 613.413 704.221 610.094 704.409 606.776C704.597 603.457 704.786 600.139 704.973 596.820C705.161 593.502 705.349 590.183 705.537 586.865C705.725 583.546 705.912 580.227 706.100 576.909C706.287 573.590 706.475 570.272 706.663 566.953C706.850 563.634 707.038 560.316 707.226 556.997C707.414 553.679 707.602 550.360 707.790 547.042C707.978 543.723 708.167 540.405 708.355 537.086C708.544 533.768 708.733 530.449 708.923 527.131C709.112 523.812 709.302 520.494 709.492 517.175C709.682 513.857 709.873 510.538 710.064 507.220C710.255 503.902 710.447 500.583 710.640 497.265C710.832 493.947 711.025 490.628 711.219 487.310C711.412 483.992 711.607 480.674 711.802 477.356C711.997 474.037 712.193 470.719 712.390 467.401C712.586 464.083 712.784 460.765 712.982 457.447C713.181 454.129 713.380 450.812 713.581 447.494C713.781 444.176 713.983 440.858 714.185 437.540C714.388 434.223 714.591 430.905 714.796 427.587C715.001 424.270 715.207 420.952 715.414 417.635C715.621 414.318 715.829 411.000 716.039 407.683C716.249 404.366 716.460 401.049 716.672 397.731C716.885 394.414 717.098 391.097 717.314 387.780C717.529 384.464 717.746 381.147 717.964 377.830C718.182 374.513 718.402 371.197 718.623 367.880C718.845 364.564 719.068 361.247 719.293 357.931C719.517 354.615 719.744 351.299 719.972 347.983C720.200 344.667 720.430 341.351 720.662 338.035C720.894 334.719 721.127 331.403 721.363 328.088C721.599 324.772 721.836 321.457 722.076 318.142C722.315 314.827 722.557 311.512 722.801 308.197C723.044 304.882 723.290 301.567 723.538 298.252C723.786 294.938 724.034 291.623 724.289 288.309C724.544 284.995 724.806 281.681 725.088 278.369C725.370 275.058 725.672 271.747 726.005 268.440C726.338 265.133 726.702 261.829 727.110 258.530C727.518 255.231 727.969 251.938 728.475 248.653C728.981 245.368 729.543 242.091 730.171 238.827C730.799 235.563 731.494 232.312 732.267 229.079C733.040 225.846 733.132 220.894 736.415 220.373C739.698 219.851 740.024 225.518 740.832 228.742C741.640 231.967 742.240 235.239 742.828 238.510C743.417 241.782 743.957 245.062 744.459 248.348C744.960 251.633 745.422 254.925 745.852 258.221C746.282 261.517 746.681 264.817 747.058 268.120C747.434 271.422 747.787 274.727 748.125 278.034C748.463 281.340 748.786 284.649 749.103 287.957C749.420 291.266 749.731 294.575 750.041 297.885C750.351 301.194 750.659 304.504 750.964 307.814C751.270 311.123 751.573 314.433 751.874 317.744C752.175 321.054 752.473 324.364 752.770 327.675C753.067 330.985 753.362 334.296 753.654 337.607C753.947 340.918 754.238 344.229 754.526 347.541C754.815 350.852 755.102 354.163 755.387 357.475C755.672 360.787 755.956 364.098 756.237 367.410C756.519 370.722 756.799 374.034 757.077 377.347C757.356 380.659 757.632 383.971 757.908 387.284C758.183 390.596 758.456 393.909 758.729 397.221C759.001 400.534 759.272 403.847 759.541 407.160C759.811 410.473 760.079 413.786 760.345 417.099C760.612 420.412 760.878 423.725 761.142 427.039C761.407 430.352 761.670 433.665 761.932 436.979C762.195 440.293 762.456 443.606 762.716 446.920C762.976 450.233 763.235 453.547 763.494 456.861C763.752 460.175 764.009 463.489 764.266 466.803C764.523 470.117 764.779 473.431 765.034 476.745C765.289 480.059 765.543 483.373 765.797 486.687C766.051 490.001 766.304 493.316 766.557 496.630C766.810 499.944 767.062 503.258 767.314 506.573C767.565 509.887 767.817 513.201 768.068 516.516C768.319 519.830 768.569 523.145 768.820 526.459C769.070 529.773 769.321 533.088 769.571 536.402C769.821 539.717 770.070 543.031 770.320 546.346C770.570 549.660 770.820 552.975 771.070 556.289C771.319 559.604 771.569 562.918 771.819 566.233C772.069 569.547 772.319 572.862 772.570 576.176C772.820 579.490 773.070 582.805 773.321 586.119C773.572 589.434 773.823 592.748 774.075 596.062C774.326 599.377 774.578 602.691 774.830 606.005C775.083 609.320 775.336 612.634 775.589 615.948C775.842 619.262 776.097 622.576 776.351 625.890C776.606 629.205 776.861 632.519 777.117 635.833C777.374 639.147 777.631 642.461 777.888 645.774C778.146 649.088 778.405 652.402 778.664 655.716C778.924 659.030 779.184 662.343 779.446 665.657C779.707 668.970 779.970 672.284 780.234 675.597C780.497 678.911 780.762 682.224 781.028 685.537C781.294 688.850 781.562 692.164 781.830 695.477C782.099 698.790 782.369 702.102 782.640 705.415C782.911 708.728 783.184 712.041 783.458 715.353C783.733 718.666 784.008 721.978 784.286 725.290C784.565 728.603 784.846 731.915 785.134 735.226C785.421 738.537 785.715 741.848 786.017 745.158C786.319 748.468 786.630 751.778 786.953 755.086C787.275 758.394 787.609 761.701 787.957 765.007C788.305 768.313 788.667 771.617 789.045 774.919C789.424 778.221 789.820 781.521 790.235 784.819C790.650 788.117 791.085 791.413 791.542 794.705C791.998 797.997 792.574 801.359 794.300 804.200C797.318 805.630 800.515 806.659 803.772 807.394C807.029 808.130 810.343 808.587 813.667 808.913C816.990 809.238 820.324 809.434 823.658 809.627C826.991 809.820 830.326 809.995 833.661 810.153C836.996 810.311 840.333 810.453 843.669 810.580C847.006 810.706 850.343 810.818 853.681 810.915C857.019 811.013 860.357 811.096 863.695 811.168C867.033 811.239 870.372 811.298 873.711 811.346C877.049 811.394 880.388 811.431 883.727 811.459C887.066 811.487 890.405 811.505 893.744 811.515C897.084 811.526 900.423 811.528 903.762 811.524C907.101 811.520 910.440 811.509 913.779 811.494C917.118 811.478 920.457 811.458 923.796 811.434C927.135 811.410 930.474 811.383 933.813 811.354C937.152 811.324 940.491 811.293 943.830 811.261C947.169 811.229 950.508 811.197 953.847 811.163C957.186 811.129 960.525 811.094 963.864 811.058C967.202 811.023 970.541 810.986 973.880 810.948C977.219 810.911 980.558 810.872 983.897 810.833C987.236 810.794 990.575 810.754 993.913 810.713C997.252 810.672 1000.591 810.631 1003.930 810.589C1007.269 810.546 1010.608 810.503 1013.946 810.460C1017.285 810.416 1020.624 810.372 1023.963 810.327C1027.302 810.282 1030.640 810.236 1033.979 810.190C1037.318 810.144 1040.657 810.097 1043.996 810.050C1047.334 810.002 1050.673 809.955 1054.012 809.906C1057.351 809.858 1060.689 809.809 1064.028 809.760C1067.367 809.711 1070.706 809.661 1074.044 809.611C1077.383 809.561 1080.722 809.510 1084.060 809.460C1087.399 809.409 1090.738 809.358 1094.077 809.306C1097.415 809.255 1100.754 809.203 1104.093 809.151C1107.431 809.099 1110.770 809.047 1114.109 808.994C1117.447 808.942 1120.786 808.889 1124.125 808.837C1127.463 808.784 1130.802 808.731 1134.141 808.678C1137.480 808.625 1140.818 808.572 1144.157 808.518C1147.496 808.465 1150.834 808.412 1154.173 808.359C1157.512 808.305 1160.850 808.252 1164.189 808.199C1167.528 808.145 1170.866 808.092 1174.205 808.039C1177.544 807.986 1180.882 807.933 1184.221 807.880C1187.560 807.827 1190.898 807.774 1194.237 807.721C1197.576 807.669 1200.914 807.616 1204.253 807.564C1207.592 807.512 1210.930 807.460 1214.269 807.408C1217.608 807.356 1220.947 807.305 1224.285 807.253C1227.624 807.202 1230.963 807.151 1234.301 807.101C1237.640 807.050 1240.979 807.000 1244.318 806.950C1247.656 806.901 1250.995 806.851 1254.334 806.802C1257.673 806.753 1261.011 806.705 1264.350 806.657C1267.689 806.609 1271.028 806.562 1274.366 806.515C1277.705 806.468 1281.044 806.422 1284.383 806.376C1287.721 806.330 1291.060 806.285 1294.399 806.241C1297.738 806.196 1301.077 806.152 1304.415 806.109C1307.754 806.066 1311.093 806.024 1314.432 805.982C1317.771 805.940 1321.110 805.899 1324.449 805.859C1327.787 805.819 1331.126 805.780 1334.465 805.741C1337.804 805.702 1341.143 805.665 1344.482 805.628C1347.821 805.591 1351.160 805.555 1354.498 805.520C1357.837 805.485 1361.176 805.451 1364.515 805.418C1367.854 805.385 1371.193 805.352 1374.532 805.321C1377.871 805.290 1381.210 805.260 1384.549 805.231C1387.888 805.202 1391.227 805.174 1394.566 805.147C1397.905 805.120 1401.244 805.095 1404.583 805.070C1407.922 805.046 1411.261 805.022 1414.600 805.000C1415.896 801.942 1416.969 798.791 1417.832 795.584C1418.694 792.376 1419.359 789.118 1419.897 785.840C1420.434 782.563 1420.844 779.265 1421.196 775.963C1421.548 772.660 1421.845 769.352 1422.146 766.044C1422.446 762.737 1422.740 759.428 1423.027 756.119C1423.314 752.810 1423.595 749.501 1423.870 746.191C1424.145 742.881 1424.414 739.571 1424.677 736.260C1424.940 732.949 1425.198 729.638 1425.451 726.326C1425.704 723.014 1425.951 719.702 1426.194 716.390C1426.437 713.078 1426.675 709.765 1426.909 706.452C1427.143 703.139 1427.373 699.825 1427.598 696.512C1427.824 693.198 1428.046 689.884 1428.265 686.570C1428.483 683.256 1428.698 679.942 1428.910 676.627C1429.122 673.312 1429.331 669.998 1429.537 666.683C1429.743 663.368 1429.947 660.053 1430.148 656.738C1430.350 653.422 1430.549 650.107 1430.747 646.792C1430.944 643.476 1431.140 640.161 1431.334 636.845C1431.529 633.529 1431.722 630.214 1431.914 626.898C1432.106 623.582 1432.297 620.266 1432.488 616.951C1432.678 613.635 1432.869 610.319 1433.059 607.003C1433.249 603.687 1433.438 600.371 1433.628 597.055C1433.817 593.739 1434.006 590.424 1434.196 587.108C1434.385 583.792 1434.574 580.476 1434.762 577.160C1434.951 573.844 1435.140 570.528 1435.329 567.212C1435.518 563.896 1435.707 560.580 1435.896 557.264C1436.085 553.948 1436.274 550.632 1436.463 547.316C1436.653 544.001 1436.842 540.685 1437.032 537.369C1437.222 534.053 1437.412 530.737 1437.602 527.421C1437.793 524.105 1437.984 520.789 1438.175 517.474C1438.366 514.158 1438.558 510.842 1438.750 507.526C1438.942 504.211 1439.135 500.895 1439.328 497.579C1439.522 494.264 1439.716 490.948 1439.910 487.632C1440.105 484.317 1440.300 481.001 1440.496 477.686C1440.692 474.370 1440.889 471.055 1441.087 467.739C1441.285 464.424 1441.483 461.108 1441.683 457.793C1441.882 454.478 1442.083 451.162 1442.284 447.847C1442.486 444.532 1442.688 441.217 1442.892 437.902C1443.095 434.587 1443.300 431.272 1443.506 427.957C1443.712 424.642 1443.919 421.327 1444.127 418.012C1444.335 414.698 1444.545 411.383 1444.756 408.068C1444.967 404.754 1445.179 401.439 1445.393 398.125C1445.607 394.810 1445.822 391.496 1446.038 388.182C1446.255 384.867 1446.473 381.553 1446.693 378.239C1446.913 374.925 1447.134 371.611 1447.357 368.297C1447.580 364.984 1447.805 361.670 1448.031 358.356C1448.257 355.043 1448.486 351.729 1448.716 348.416C1448.946 345.103 1449.177 341.789 1449.411 338.476C1449.645 335.163 1449.881 331.850 1450.118 328.538C1450.356 325.225 1450.596 321.912 1450.837 318.600C1451.079 315.287 1451.323 311.975 1451.569 308.663C1451.815 305.350 1452.063 302.038 1452.314 298.726C1452.564 295.415 1452.815 292.103 1453.076 288.792C1453.337 285.481 1453.608 282.170 1453.903 278.862C1454.197 275.554 1454.514 272.248 1454.866 268.945C1455.218 265.642 1455.604 262.343 1456.038 259.050C1456.471 255.758 1456.951 252.471 1457.490 249.193C1458.029 245.916 1458.627 242.648 1459.295 239.395C1459.963 236.142 1460.651 232.889 1461.537 229.688C1462.424 226.487 1465.351 222.415 1467.117 225.228C1468.882 228.042 1469.362 231.468 1470.067 234.713C1470.773 237.959 1471.357 241.229 1471.922 244.502C1472.486 247.775 1473.004 251.056 1473.486 254.343C1473.967 257.629 1474.410 260.921 1474.825 264.216C1475.240 267.511 1475.625 270.810 1475.990 274.111C1476.355 277.413 1476.699 280.716 1477.030 284.021C1477.362 287.326 1477.681 290.632 1477.996 293.938C1478.311 297.244 1478.623 300.551 1478.933 303.858C1479.243 307.164 1479.551 310.471 1479.856 313.779C1480.162 317.086 1480.465 320.393 1480.766 323.701C1481.067 327.009 1481.366 330.317 1481.663 333.625C1481.960 336.933 1482.255 340.241 1482.547 343.549C1482.840 346.858 1483.131 350.166 1483.420 353.475C1483.709 356.784 1483.996 360.092 1484.281 363.401C1484.567 366.710 1484.850 370.020 1485.132 373.329C1485.414 376.638 1485.694 379.948 1485.973 383.257C1486.251 386.567 1486.528 389.877 1486.804 393.187C1487.079 396.497 1487.353 399.807 1487.625 403.117C1487.898 406.427 1488.169 409.737 1488.439 413.047C1488.709 416.358 1488.977 419.668 1489.244 422.979C1489.512 426.289 1489.778 429.600 1490.042 432.911C1490.307 436.221 1490.571 439.532 1490.834 442.843C1491.096 446.154 1491.358 449.465 1491.619 452.776C1491.879 456.087 1492.139 459.398 1492.398 462.709C1492.657 466.021 1492.915 469.332 1493.172 472.643C1493.430 475.955 1493.686 479.266 1493.942 482.577C1494.198 485.889 1494.453 489.200 1494.707 492.512C1494.962 495.823 1495.216 499.135 1495.470 502.447C1495.723 505.758 1495.976 509.070 1496.229 512.382C1496.481 515.693 1496.734 519.005 1496.986 522.317C1497.238 525.629 1497.489 528.940 1497.741 532.252C1497.992 535.564 1498.243 538.876 1498.494 542.187C1498.746 545.499 1498.997 548.811 1499.248 552.123C1499.499 555.435 1499.750 558.747 1500.001 562.058C1500.252 565.370 1500.503 568.682 1500.754 571.994C1501.005 575.306 1501.257 578.617 1501.508 581.929C1501.760 585.241 1502.012 588.553 1502.264 591.864C1502.517 595.176 1502.769 598.488 1503.022 601.799C1503.276 605.111 1503.529 608.423 1503.783 611.734C1504.037 615.046 1504.292 618.357 1504.547 621.669C1504.802 624.980 1505.058 628.292 1505.315 631.603C1505.572 634.915 1505.829 638.226 1506.087 641.537C1506.345 644.848 1506.604 648.160 1506.864 651.471C1507.124 654.782 1507.385 658.093 1507.646 661.404C1507.908 664.715 1508.171 668.026 1508.435 671.337C1508.699 674.647 1508.964 677.958 1509.230 681.269C1509.496 684.579 1509.763 687.890 1510.032 691.200C1510.301 694.511 1510.571 697.821 1510.842 701.131C1511.113 704.442 1511.386 707.752 1511.660 711.062C1511.934 714.372 1512.210 717.681 1512.487 720.991C1512.764 724.301 1513.043 727.610 1513.327 730.920C1513.611 734.229 1513.900 737.538 1514.196 740.846C1514.492 744.154 1514.795 747.461 1515.109 750.768C1515.423 754.074 1515.747 757.380 1516.084 760.684C1516.421 763.988 1516.771 767.291 1517.137 770.592C1517.503 773.893 1517.884 777.192 1518.284 780.489C1518.684 783.787 1519.103 787.082 1519.542 790.374C1519.982 793.666 1520.192 797.023 1521.200 800.187C1522.208 803.352 1524.690 805.895 1527.700 807.300C1530.979 808.106 1534.303 808.726 1537.650 809.180C1540.996 809.634 1544.362 809.932 1547.734 810.129C1551.105 810.327 1554.481 810.424 1557.858 810.476C1561.234 810.528 1564.611 810.538 1567.988 810.546C1571.365 810.555 1574.742 810.553 1578.119 810.544C1581.496 810.535 1584.873 810.519 1588.250 810.496C1591.627 810.473 1595.003 810.444 1598.380 810.411C1601.757 810.378 1605.134 810.341 1608.510 810.301C1611.887 810.261 1615.264 810.218 1618.641 810.175C1622.017 810.132 1625.394 810.088 1628.771 810.045C1632.147 810.002 1635.524 809.960 1638.901 809.921C1642.277 809.882 1645.654 809.845 1649.031 809.813C1652.408 809.782 1655.785 809.754 1659.161 809.733C1662.538 809.712 1665.915 809.697 1669.292 809.688C1672.669 809.680 1676.046 809.677 1679.423 809.682C1682.800 809.686 1686.177 809.697 1689.554 809.715C1692.931 809.733 1696.308 809.758 1699.684 809.791C1703.061 809.824 1706.438 809.864 1709.815 809.911C1713.191 809.959 1716.568 810.015 1719.944 810.078C1723.320 810.142 1726.697 810.213 1730.073 810.293C1733.449 810.373 1736.824 810.461 1740.200 810.558C1743.575 810.655 1746.951 810.761 1750.326 810.876C1753.701 810.990 1757.076 811.112 1760.451 811.222C1763.826 811.332 1767.201 811.431 1770.578 811.501C1773.954 811.570 1777.331 811.610 1780.708 811.602C1784.085 811.594 1787.462 811.537 1790.836 811.414C1794.211 811.291 1797.584 811.101 1800.949 810.825C1804.315 810.549 1807.674 810.187 1811.018 809.722C1814.363 809.256 1817.693 808.682 1821.000 808.000C1822.420 804.976 1823.665 801.871 1824.745 798.710C1825.826 795.549 1826.751 792.336 1827.569 789.097C1828.387 785.858 1829.098 782.593 1829.748 779.316C1830.399 776.039 1830.995 772.752 1831.549 769.458C1832.103 766.163 1832.612 762.861 1833.081 759.554C1833.551 756.246 1833.980 752.933 1834.375 749.616C1834.770 746.299 1835.130 742.978 1835.460 739.653C1835.790 736.329 1836.091 733.002 1836.367 729.673C1836.643 726.343 1836.895 723.012 1837.127 719.680C1837.360 716.347 1837.573 713.013 1837.772 709.679C1837.972 706.344 1838.157 703.008 1838.334 699.673C1838.511 696.337 1838.679 693.000 1838.844 689.664C1839.009 686.327 1839.171 682.990 1839.333 679.654C1839.496 676.317 1839.657 672.980 1839.817 669.643C1839.978 666.307 1840.137 662.970 1840.296 659.633C1840.456 656.296 1840.614 652.959 1840.772 649.622C1840.930 646.286 1841.087 642.949 1841.244 639.612C1841.401 636.275 1841.558 632.938 1841.714 629.601C1841.870 626.264 1842.026 622.927 1842.182 619.590C1842.337 616.253 1842.493 612.916 1842.648 609.579C1842.803 606.242 1842.959 602.905 1843.114 599.568C1843.269 596.231 1843.424 592.894 1843.579 589.557C1843.734 586.220 1843.890 582.883 1844.045 579.546C1844.201 576.209 1844.356 572.872 1844.512 569.535C1844.668 566.198 1844.824 562.861 1844.981 559.524C1845.137 556.187 1845.294 552.850 1845.452 549.513C1845.609 546.176 1845.767 542.839 1845.925 539.502C1846.084 536.165 1846.243 532.828 1846.403 529.492C1846.562 526.155 1846.723 522.818 1846.884 519.481C1847.045 516.145 1847.207 512.808 1847.370 509.471C1847.532 506.135 1847.696 502.798 1847.861 499.461C1848.026 496.125 1848.191 492.788 1848.358 489.452C1848.525 486.115 1848.692 482.779 1848.861 479.443C1849.030 476.106 1849.201 472.770 1849.372 469.434C1849.543 466.097 1849.716 462.761 1849.890 459.425C1850.064 456.089 1850.240 452.753 1850.417 449.417C1850.594 446.081 1850.772 442.745 1850.952 439.410C1851.132 436.074 1851.314 432.738 1851.497 429.403C1851.681 426.067 1851.866 422.731 1852.053 419.396C1852.239 416.061 1852.428 412.725 1852.618 409.390C1852.809 406.055 1853.001 402.720 1853.196 399.385C1853.390 396.050 1853.586 392.715 1853.785 389.380C1853.983 386.046 1854.184 382.711 1854.386 379.376C1854.589 376.042 1854.794 372.708 1855.001 369.373C1855.208 366.039 1855.418 362.705 1855.630 359.371C1855.842 356.037 1856.056 352.704 1856.274 349.370C1856.491 346.037 1856.711 342.703 1856.934 339.370C1857.157 336.037 1857.382 332.704 1857.611 329.371C1857.839 326.038 1858.071 322.706 1858.306 319.373C1858.541 316.041 1858.779 312.709 1859.020 309.377C1859.262 306.045 1859.506 302.713 1859.755 299.382C1860.003 296.051 1860.255 292.719 1860.510 289.389C1860.766 286.058 1861.025 282.727 1861.288 279.397C1861.551 276.067 1861.817 272.737 1862.088 269.407C1862.359 266.077 1862.634 262.748 1862.913 259.419C1863.192 256.090 1863.470 252.761 1863.764 249.433C1864.057 246.106 1864.384 242.778 1864.904 239.479C1865.425 236.179 1865.799 232.798 1867.035 229.694C1868.270 226.590 1871.004 231.073 1871.831 234.309C1872.657 237.546 1873.271 240.834 1873.769 244.137C1874.267 247.441 1874.668 250.758 1875.084 254.072C1875.500 257.387 1875.910 260.702 1876.315 264.018C1876.720 267.334 1877.119 270.651 1877.513 273.968C1877.908 277.286 1878.296 280.604 1878.680 283.922C1879.064 287.241 1879.443 290.560 1879.816 293.879C1880.190 297.199 1880.559 300.519 1880.922 303.840C1881.286 307.161 1881.645 310.482 1881.999 313.804C1882.354 317.126 1882.703 320.448 1883.048 323.771C1883.393 327.094 1883.734 330.417 1884.070 333.740C1884.406 337.064 1884.737 340.388 1885.065 343.713C1885.392 347.037 1885.715 350.362 1886.034 353.688C1886.353 357.013 1886.668 360.339 1886.978 363.665C1887.289 366.991 1887.596 370.318 1887.899 373.645C1888.202 376.971 1888.501 380.299 1888.797 383.626C1889.093 386.954 1889.385 390.282 1889.673 393.610C1889.962 396.938 1890.247 400.266 1890.530 403.595C1890.812 406.924 1891.091 410.252 1891.368 413.582C1891.644 416.911 1891.918 420.240 1892.189 423.570C1892.461 426.899 1892.730 430.229 1892.996 433.559C1893.263 436.889 1893.527 440.219 1893.790 443.550C1894.052 446.880 1894.313 450.210 1894.572 453.541C1894.831 456.871 1895.088 460.202 1895.344 463.533C1895.601 466.864 1895.855 470.195 1896.109 473.526C1896.362 476.857 1896.615 480.188 1896.867 483.519C1897.119 486.850 1897.370 490.181 1897.620 493.512C1897.870 496.844 1898.120 500.175 1898.370 503.506C1898.620 506.837 1898.869 510.169 1899.119 513.500C1899.369 516.831 1899.618 520.163 1899.868 523.494C1900.118 526.825 1900.368 530.156 1900.619 533.488C1900.870 536.819 1901.122 540.150 1901.374 543.481C1901.627 546.812 1901.880 550.143 1902.134 553.474C1902.389 556.805 1902.645 560.136 1902.902 563.467C1903.159 566.797 1903.418 570.128 1903.678 573.458C1903.938 576.789 1904.200 580.119 1904.465 583.449C1904.729 586.779 1904.995 590.109 1905.263 593.439C1905.532 596.769 1905.802 600.099 1906.076 603.428C1906.349 606.758 1906.625 610.087 1906.904 613.416C1907.182 616.745 1907.464 620.074 1907.749 623.402C1908.033 626.731 1908.321 630.059 1908.613 633.387C1908.904 636.715 1909.199 640.042 1909.497 643.369C1909.796 646.697 1910.098 650.024 1910.404 653.350C1910.710 656.677 1911.020 660.003 1911.334 663.329C1911.649 666.655 1911.967 669.980 1912.290 673.305C1912.614 676.630 1912.941 679.954 1913.274 683.279C1913.606 686.603 1913.944 689.926 1914.286 693.249C1914.628 696.572 1914.976 699.895 1915.329 703.217C1915.681 706.539 1916.040 709.860 1916.404 713.181C1916.767 716.501 1917.136 719.822 1917.507 723.142C1917.878 726.462 1918.251 729.781 1918.622 733.101C1918.994 736.421 1919.365 739.741 1919.731 743.062C1920.098 746.382 1920.460 749.703 1920.815 753.025C1921.169 756.347 1921.514 759.669 1921.866 762.991C1922.218 766.313 1922.578 769.635 1922.962 772.953C1923.346 776.272 1923.755 779.587 1924.205 782.897C1924.655 786.208 1925.116 789.518 1925.734 792.801C1926.353 796.084 1927.146 799.346 1928.368 802.455C1929.589 805.565 1931.292 808.493 1933.500 811.000C1936.641 812.125 1939.884 812.959 1943.170 813.539C1946.456 814.119 1949.780 814.464 1953.109 814.687C1956.438 814.911 1959.774 815.014 1963.110 815.105C1966.446 815.196 1969.781 815.291 1973.116 815.408C1976.450 815.525 1979.785 815.657 1983.118 815.796C1986.452 815.935 1989.786 816.082 1993.119 816.228C1996.453 816.374 1999.787 816.519 2003.121 816.658C2006.454 816.796 2009.789 816.928 2013.123 817.040C2016.458 817.152 2019.794 817.241 2023.131 817.275C2026.467 817.309 2029.805 817.289 2033.140 817.184C2036.475 817.079 2039.808 816.888 2043.131 816.580C2046.453 816.273 2049.765 815.848 2053.053 815.275C2056.340 814.703 2059.602 813.984 2062.818 813.093C2066.034 812.203 2069.200 811.133 2072.300 809.900C2074.748 807.658 2076.728 804.934 2078.245 801.982C2079.762 799.030 2080.869 795.884 2081.834 792.708C2082.799 789.532 2083.635 786.317 2084.369 783.080C2085.104 779.844 2085.737 776.584 2086.297 773.312C2086.857 770.040 2087.344 766.757 2087.789 763.467C2088.234 760.178 2088.639 756.883 2089.026 753.587C2089.412 750.290 2089.776 746.991 2090.121 743.689C2090.465 740.388 2090.790 737.084 2091.098 733.780C2091.406 730.475 2091.697 727.168 2091.974 723.860C2092.250 720.553 2092.513 717.244 2092.765 713.934C2093.016 710.624 2093.257 707.314 2093.489 704.002C2093.721 700.691 2093.944 697.380 2094.162 694.067C2094.380 690.755 2094.592 687.443 2094.802 684.130C2095.011 680.817 2095.218 677.505 2095.422 674.192C2095.626 670.879 2095.827 667.565 2096.026 664.252C2096.225 660.939 2096.421 657.625 2096.614 654.312C2096.808 650.998 2096.999 647.684 2097.188 644.370C2097.377 641.057 2097.563 637.742 2097.748 634.428C2097.932 631.114 2098.114 627.800 2098.293 624.485C2098.473 621.171 2098.651 617.856 2098.826 614.542C2099.002 611.227 2099.175 607.912 2099.347 604.598C2099.518 601.283 2099.687 597.968 2099.855 594.653C2100.023 591.338 2100.189 588.023 2100.353 584.707C2100.517 581.392 2100.679 578.077 2100.839 574.761C2101.000 571.446 2101.159 568.131 2101.316 564.815C2101.474 561.499 2101.629 558.184 2101.784 554.868C2101.938 551.552 2102.091 548.237 2102.242 544.921C2102.394 541.605 2102.544 538.289 2102.692 534.973C2102.841 531.657 2102.989 528.341 2103.135 525.025C2103.281 521.709 2103.426 518.393 2103.570 515.077C2103.714 511.761 2103.856 508.445 2103.998 505.128C2104.140 501.812 2104.281 498.496 2104.420 495.179C2104.560 491.863 2104.699 488.547 2104.837 485.230C2104.975 481.914 2105.112 478.597 2105.249 475.281C2105.385 471.964 2105.521 468.648 2105.656 465.331C2105.791 462.015 2105.925 458.698 2106.059 455.382C2106.193 452.065 2106.326 448.749 2106.458 445.432C2106.591 442.115 2106.723 438.799 2106.855 435.482C2106.987 432.165 2107.119 428.849 2107.250 425.532C2107.381 422.215 2107.512 418.899 2107.642 415.582C2107.773 412.265 2107.903 408.948 2108.034 405.632C2108.164 402.315 2108.294 398.998 2108.425 395.682C2108.555 392.365 2108.685 389.048 2108.815 385.731C2108.945 382.415 2109.076 379.098 2109.206 375.781C2109.337 372.464 2109.467 369.148 2109.600 365.831C2109.732 362.514 2109.865 359.198 2110.001 355.881C2110.137 352.565 2110.276 349.249 2110.418 345.932C2110.560 342.616 2110.706 339.300 2110.856 335.984C2111.007 332.668 2111.162 329.353 2111.323 326.037C2111.483 322.722 2111.650 319.407 2111.824 316.092C2111.997 312.777 2112.178 309.463 2112.367 306.149C2112.555 302.835 2112.752 299.522 2112.957 296.209C2113.163 292.896 2113.378 289.583 2113.603 286.272C2113.827 282.960 2114.062 279.649 2114.309 276.339C2114.555 273.029 2114.813 269.720 2115.082 266.411C2115.352 263.103 2115.634 259.796 2115.930 256.490C2116.225 253.183 2116.509 249.876 2116.880 246.577C2117.252 243.279 2117.807 240.003 2118.531 236.764C2119.255 233.524 2122.066 234.224 2122.884 237.441C2123.702 240.658 2124.309 243.925 2124.876 247.196C2125.442 250.466 2125.960 253.745 2126.467 257.025C2126.973 260.306 2127.459 263.589 2127.926 266.876C2128.393 270.162 2128.841 273.451 2129.271 276.742C2129.702 280.033 2130.114 283.327 2130.511 286.623C2130.908 289.918 2131.289 293.215 2131.656 296.514C2132.022 299.813 2132.375 303.114 2132.715 306.416C2133.054 309.718 2133.382 313.021 2133.698 316.325C2134.014 319.629 2134.320 322.934 2134.616 326.240C2134.912 329.546 2135.199 332.853 2135.478 336.161C2135.757 339.468 2136.029 342.776 2136.295 346.085C2136.561 349.394 2136.821 352.703 2137.077 356.012C2137.333 359.321 2137.584 362.631 2137.833 365.941C2138.083 369.251 2138.329 372.561 2138.575 375.871C2138.821 379.181 2139.066 382.492 2139.311 385.802C2139.555 389.112 2139.800 392.422 2140.043 395.733C2140.287 399.043 2140.531 402.353 2140.774 405.664C2141.018 408.974 2141.261 412.284 2141.505 415.595C2141.748 418.905 2141.992 422.215 2142.235 425.526C2142.479 428.836 2142.723 432.146 2142.967 435.457C2143.211 438.767 2143.456 442.077 2143.701 445.387C2143.947 448.698 2144.192 452.008 2144.439 455.318C2144.686 458.628 2144.933 461.938 2145.181 465.248C2145.429 468.558 2145.679 471.868 2145.929 475.178C2146.179 478.488 2146.430 481.797 2146.683 485.107C2146.936 488.417 2147.190 491.726 2147.445 495.036C2147.700 498.345 2147.957 501.654 2148.215 504.964C2148.474 508.273 2148.734 511.582 2148.995 514.891C2149.257 518.200 2149.521 521.509 2149.786 524.817C2150.052 528.126 2150.319 531.434 2150.589 534.743C2150.858 538.051 2151.130 541.359 2151.404 544.667C2151.678 547.975 2151.954 551.283 2152.233 554.590C2152.512 557.898 2152.793 561.205 2153.077 564.512C2153.361 567.820 2153.648 571.126 2153.937 574.433C2154.227 577.740 2154.519 581.046 2154.814 584.352C2155.110 587.658 2155.408 590.964 2155.709 594.270C2156.011 597.575 2156.315 600.881 2156.623 604.186C2156.931 607.490 2157.243 610.795 2157.557 614.099C2157.872 617.404 2158.191 620.708 2158.513 624.011C2158.835 627.315 2159.161 630.618 2159.490 633.921C2159.819 637.224 2160.150 640.527 2160.480 643.830C2160.810 647.132 2161.139 650.435 2161.465 653.739C2161.790 657.042 2162.111 660.346 2162.426 663.650C2162.740 666.954 2163.048 670.259 2163.345 673.565C2163.643 676.871 2163.930 680.178 2164.204 683.486C2164.478 686.794 2164.739 690.103 2164.993 693.413C2165.248 696.722 2165.497 700.032 2165.747 703.342C2165.997 706.652 2166.250 709.961 2166.512 713.270C2166.773 716.579 2167.045 719.887 2167.334 723.194C2167.623 726.501 2167.929 729.806 2168.260 733.109C2168.592 736.411 2168.950 739.711 2169.331 743.009C2169.713 746.306 2170.117 749.601 2170.538 752.893C2170.960 756.185 2171.399 759.476 2171.851 762.764C2172.303 766.052 2172.768 769.339 2173.240 772.624C2173.712 775.910 2174.193 779.194 2174.676 782.478C2175.159 785.762 2175.629 789.048 2176.135 792.328C2176.642 795.609 2177.217 798.885 2178.093 802.086C2178.969 805.288 2180.180 808.403 2181.800 811.300L2204.000 811.600"/>
</g>
<rect x="275.5" y="44.5" width="1930.6" height="1011" fill="none" stroke="#000" stroke-width="2.9"/>
<path d="M275.5 1055.5V1072.4M467.4 1055.5V1072.4M660 1055.5V1072.4M853 1055.5V1072.4M1046 1055.5V1072.4M1239 1055.5V1072.4M1432 1055.5V1072.4M1625.5 1055.5V1072.4M1819 1055.5V1072.4M2012 1055.5V1072.4M2206 1055.5V1072.4M275.5 44.5H257.2M275.5 297.3H257.2M275.5 550.2H257.2M275.5 803H257.2M275.5 1055.5H257.2" fill="none" stroke="#000" stroke-width="2.2" stroke-linecap="round"/>
<g fill="none" stroke="#000" stroke-width="9">
<path stroke-linecap="round" d="M800.5 863.8V925M1413 863.8V925"/>
<path d="M800.5 894.5H1059.7M1153.7 894.5H1413"/>
</g>
<path d="M1273.2 463.3L1358 532" fill="none" stroke="#000" stroke-width="9.1" stroke-linecap="round"/>
<path d="M1382.2 551.6L1367.5 518.8L1346.9 543.4Z" fill="#000"/>
<text x="117.42 152.52 189" y="71.3" font-size="73.8" fill="#000">750</text>
<text x="114.37 151.15 186.9" y="324.4" font-size="73.8" fill="#000">500</text>
<text x="117.74 153.17 189.5" y="577.2" font-size="73.8" fill="#000">250</text>
<text x="159.1" y="830.2" font-size="73.8" fill="#000">0</text>
<text x="111.56 134.81 169.72 206.5" y="1083.4" font-size="73.8" fill="#000">-250</text>
<text x="258.15" y="1159.3" font-size="73.8" fill="#000">1</text>
<text x="615.35 652.62 668.95" y="1159.3" font-size="73.8" fill="#000">1.1</text>
<text x="999.85 1037.33 1054.94" y="1159.3" font-size="73.8" fill="#000">1.2</text>
<text x="1384.45 1422.03 1439.28" y="1155" font-size="73.8" fill="#000">1.4</text>
<text x="1769.25 1806.33 1823.87" y="1154.8" font-size="73.8" fill="#000">1.6</text>
<text x="2153.4 2190.72 2208.5" y="1150.7" font-size="73.8" fill="#000">1.8</text>
<text font-size="94.4" fill="#000"><tspan x="1059.24 1122.64 1150.17 1232.01" y="1270.8">Time</tspan><tspan x="1277.17" y="1263.2" font-size="82.4">(</tspan><tspan x="1304.07 1383.76" y="1270.8">ms</tspan><tspan x="1422.86" y="1263.2" font-size="82.4">)</tspan></text>
<text x="379.91 448.07 530.26 573.12" y="516.1" font-size="94.4" fill="#f00">Vmem</text>
<text x="394.86 464.95 513.75 567.03" y="920.2" font-size="94.4" fill="#00b050">Vout</text>
<text x="898.54 961.54 1011.65 1051.56 1096.06 1133.01 1189.85 1239.02 1267.27" y="351.6" font-size="94.4" fill="#000">Threshold</text>
<text x="953.41 1023.6 1072.77 1101.28 1129.89 1177.67 1226.58" y="458.9" font-size="94.4" fill="#000">Voltage</text>
<text x="1058.89 1118.25" y="922.1" font-size="94.4" fill="#000">Tr</text>
<text transform="translate(81 813.8) rotate(-90)" font-size="94.4" fill="#000"><tspan x="-1.09 68.45 118.07 146.83 176.69 223.02 270.96" y="0">Voltage</tspan><tspan x="316.1" y="-7.6" font-size="82.4">(</tspan><tspan x="345.72 425.01" y="0">mV</tspan><tspan x="493.26" y="-7.6" font-size="82.4">)</tspan></text>
</svg></body></html>
